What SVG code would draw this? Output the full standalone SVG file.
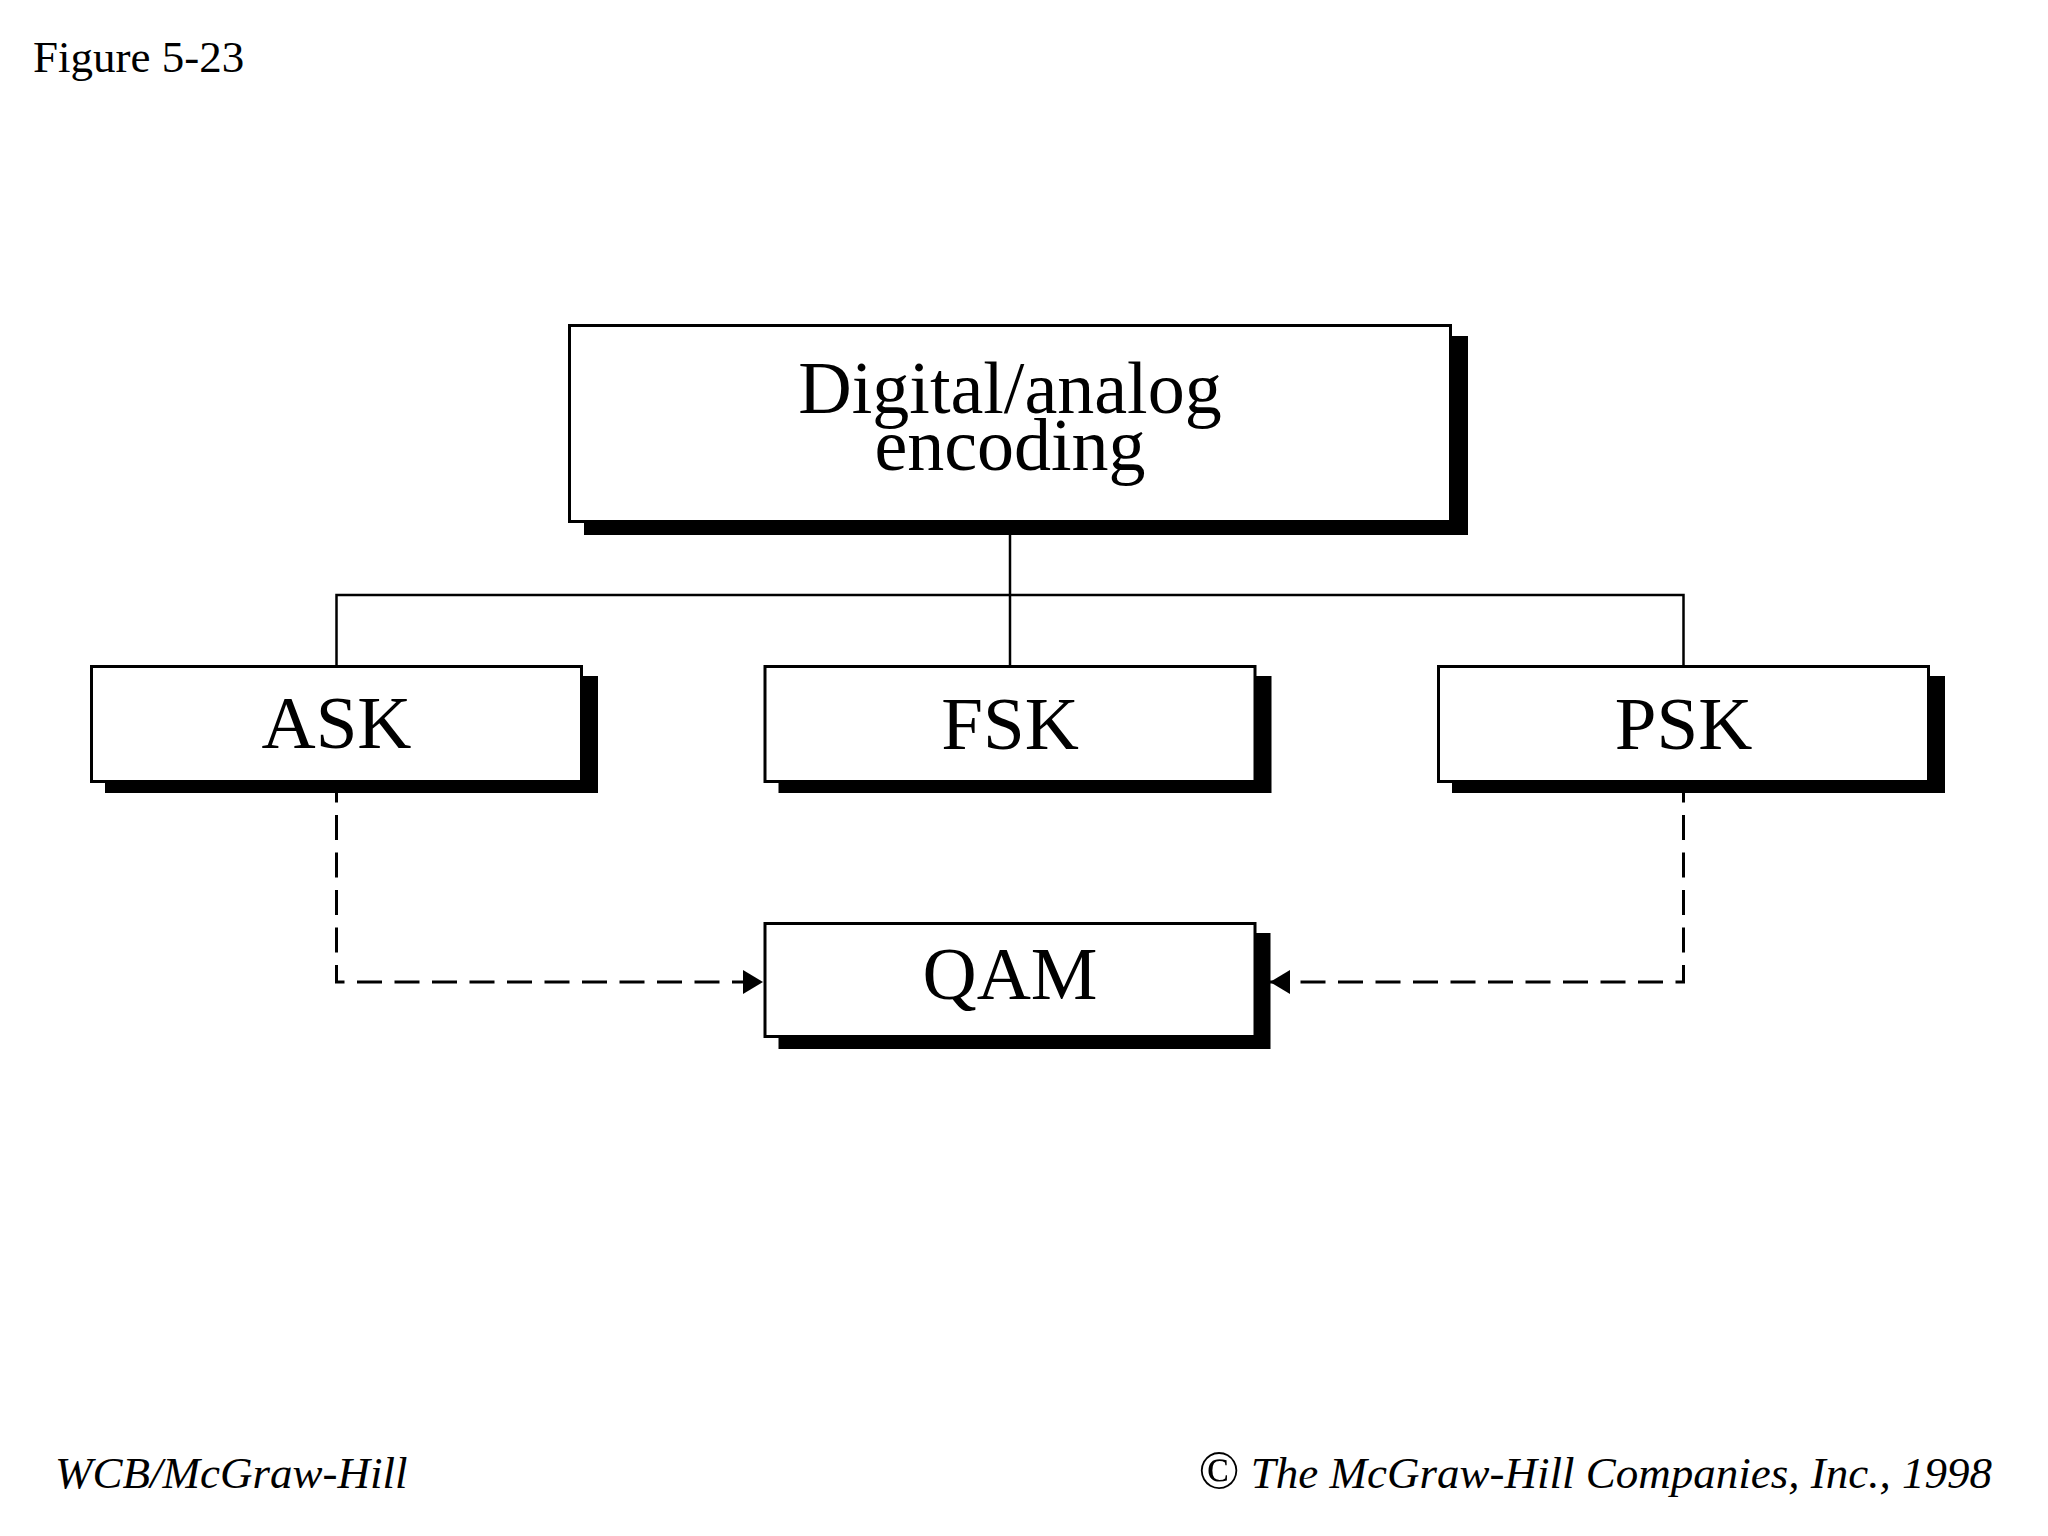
<svg xmlns="http://www.w3.org/2000/svg" width="2048" height="1536" viewBox="0 0 2048 1536">
<defs>
<style>
.box{fill:#fff;stroke:#000;stroke-width:3}
.shadow{fill:#000;stroke:none}
.lbl{font-family:"Liberation Serif","Times New Roman",serif;fill:#000;text-anchor:middle}
.big{font-size:75px}
.link{fill:none;stroke:#000;stroke-width:2.5}
.dash{fill:none;stroke:#000;stroke-width:3;stroke-dasharray:25 12.5;stroke-dashoffset:4.5}
.foot{font-family:"Liberation Serif","Times New Roman",serif;font-style:italic;font-size:45px;fill:#000}
</style>
<marker id="arr" viewBox="0 0 20 24" refX="20" refY="12" markerWidth="20" markerHeight="24" markerUnits="userSpaceOnUse" orient="auto">
<path d="M0,0 L20,12 L0,24 Z" fill="#000"/>
</marker>
</defs>
<rect width="2048" height="1536" fill="#fff"/>
<text x="33" y="72" font-family="'Liberation Serif','Times New Roman',serif" font-size="45">Figure 5-23</text>

<g id="connectors">
<path class="link" d="M1010,523 V665"/>
<path class="link" d="M336.5,665 V595 H1683.5 V665"/>
<path class="dash" d="M336.5,782 V982 H763" marker-end="url(#arr)"/>
<path class="dash" d="M1683.5,782 V982 H1270" marker-end="url(#arr)"/>
</g>

<g id="node-digital-analog">
<rect class="shadow" x="584" y="336" width="884" height="199"/>
<rect class="box" x="569.5" y="325.5" width="881" height="196"/>
<text class="lbl" font-size="74"><tspan x="1010" y="413">Digital/analog</tspan><tspan x="1010" y="470">encoding</tspan></text>
</g>

<g id="node-ask">
<rect class="shadow" x="105" y="676" width="493" height="117"/>
<rect class="box" x="91.5" y="666.5" width="490" height="115"/>
<text class="lbl big" x="336.5" y="748">ASK</text>
</g>

<g id="node-fsk">
<rect class="shadow" x="778.5" y="676" width="493" height="117"/>
<rect class="box" x="765" y="666.5" width="490" height="115"/>
<text class="lbl big" x="1010" y="749">FSK</text>
</g>

<g id="node-psk">
<rect class="shadow" x="1452" y="676" width="493" height="117"/>
<rect class="box" x="1438.5" y="666.5" width="490" height="115"/>
<text class="lbl big" x="1683.5" y="749">PSK</text>
</g>

<g id="node-qam">
<rect class="shadow" x="778.5" y="933" width="492" height="116"/>
<rect class="box" x="765" y="923.5" width="490" height="113"/>
<text class="lbl big" x="1010" y="999">QAM</text>
</g>

<text class="foot" x="55" y="1488">WCB/McGraw-Hill</text>
<text class="foot" x="1992" y="1488" text-anchor="end"><tspan font-size="54" font-style="normal">©</tspan> The McGraw-Hill Companies, Inc., 1998</text>
</svg>
